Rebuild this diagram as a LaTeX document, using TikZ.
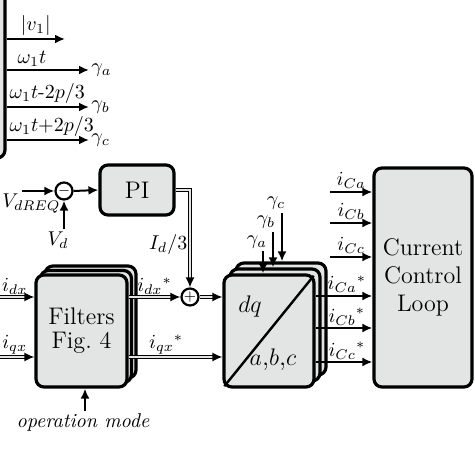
\documentclass[tikz,border=0pt]{standalone}
\usepackage{amsmath}
\usetikzlibrary{arrows.meta,calc,positioning}
\definecolor{blockgray}{HTML}{E3E5E5}
\tikzset{
  blockbox/.style={draw=black, fill=blockgray, line width=1.6pt, rounded corners=4pt, align=center, inner sep=2pt, font=\fontsize{12}{14}\selectfont},
  sumnode/.style={circle, draw=black, fill=white, line width=1.1pt, minimum size=8.5pt, inner sep=0pt, font=\scriptsize},
  sigarrow/.style={black, -{Latex[length=5pt,width=4.5pt]}, line width=1pt},
  busline/.style={black, double=blockgray, double distance=0.9pt, line width=0.7pt},
  busarrow/.style={busline, -{Latex[length=5pt,width=4.5pt]}},
  labelnode/.style={inner sep=1pt, font=\normalsize}
}

\begin{document}
\begin{tikzpicture}[x=0.5pt,y=-0.5pt]
  \useasboundingbox (0,0) rectangle (474,474);
  \clip (0,0) rectangle (474,474);

  % reference block, cut at the left edge
  \node[blockbox, minimum width=20pt, minimum height=84pt] (gen) at (-15,74) {};
  \coordinate (vmag) at (65,39);
  \node[labelnode, anchor=west] (ga) at (89,70) {$\gamma_a$};
  \node[labelnode, anchor=west] (gb) at (89,107) {$\gamma_b$};
  \node[labelnode, anchor=west] (gc) at (89,140) {$\gamma_c$};
  \draw[sigarrow] (gen.east |- vmag) -- (vmag) node[midway, above, labelnode] {$|v_1|$};
  \draw[sigarrow] (gen.east |- ga) node[above right, labelnode, xshift=4pt] {$\omega_1 t$} -- (ga.west);
  \draw[sigarrow] (gen.east |- gb) node[above right, labelnode] {$\omega_1 t$-$2p/3$} -- (gb.west);
  \draw[sigarrow] (gen.east |- gc) node[above right, labelnode] {$\omega_1 t$+$2p/3$} -- (gc.west);

  % voltage loop
  \node[sumnode] (sub) at (64,191) {$-$};
  \node[labelnode, anchor=west] (vref) at (0,204) {$V_{dREQ}$};
  \coordinate (vrefin) at (22,191);
  \draw[sigarrow] (vrefin) -- (sub.west);
  \node[labelnode] (vd) at (58,240) {$V_d$};
  \draw[sigarrow] (sub.south |- vd.north) -- (sub.south);
  \node[blockbox, minimum width=37pt, minimum height=25pt] (pi) at (137,190) {PI};
  \draw[sigarrow] (sub.east) -- (pi.west);

  % filters
  \foreach \k in {2,1}
    \node[blockbox, minimum width=45.5pt, minimum height=56pt] (filt\k) at (81.5+4.5*\k,331-4.5*\k) {};
  \node[blockbox, minimum width=45.5pt, minimum height=56pt] (filt) at (81.5,331) {Filters\\[-2pt]Fig.~4};
  \node[labelnode] (mode) at (83,422) {\itshape operation mode};
  \draw[sigarrow] (mode.north -| 85,0) -- (filt.south -| 85,0);

  % dq to abc
  \foreach \k in {2,1}
    \node[blockbox, minimum width=45pt, minimum height=56pt] (dq\k) at (269+6*\k,331-6*\k) {};
  \node[blockbox, minimum width=45pt, minimum height=56pt] (dq) at (269,331) {};
  \draw[line width=1.2pt, shorten <=1.5pt, shorten >=1.5pt] (dq.south west) -- (dq.north east);
  \node[labelnode, font=\fontsize{13}{15}\selectfont] (dqtxt) at (250,307) {$dq$};
  \node[labelnode, font=\fontsize{13}{15}\selectfont] (abctxt) at (273,360) {$a$,$b$,$c$};

  \node[labelnode] (gama) at (257,242) {$\gamma_a$};
  \node[labelnode] (gamb) at (266,222) {$\gamma_b$};
  \node[labelnode] (gamc) at (276,203) {$\gamma_c$};
  \coordinate (gain) at (263,251);
  \coordinate (gbin) at (273,232);
  \coordinate (gcin) at (282,213);
  \draw[sigarrow] (gain) -- (gain |- dq.north);
  \draw[sigarrow] (gbin) -- (gbin |- dq1.north);
  \draw[sigarrow] (gcin) -- (gcin |- dq2.north);

  % current references
  \node[sumnode] (add) at (190,297) {$+$};
  \coordinate (dxin) at (-5,297);
  \coordinate (qxin) at (-5,357);
  \draw[busarrow] (dxin) -- (filt.west |- dxin) node[midway, above, labelnode] {$i_{dx}$};
  \draw[busarrow] (qxin) -- (filt.west |- qxin) node[midway, above, labelnode] {$i_{qx}$};
  \draw[busarrow] (filt.east |- add) -- (add.west) node[midway, above, labelnode] {$i_{dx}{}^{*}$};
  \draw[busarrow] (add.east) -- (dq.west |- add);
  \draw[busarrow] (filt.east |- qxin) -- (dq.west |- qxin) node[pos=0.4, above, labelnode] {$i_{qx}{}^{*}$};
  \draw[busarrow] (pi.east) -| (add.north) node[pos=0.78, left, labelnode] {$I_d/3$};

  % current control
  \node[blockbox, minimum width=49pt, minimum height=109.5pt] (ccl) at (423,277.5) {Current\\Control\\Loop};
  \foreach \yy/\ph in {192/a,223/b,257/c}{
    \coordinate (ic\ph) at (330,\yy);
    \draw[sigarrow] (ic\ph) -- (ccl.west |- ic\ph) node[midway, above, labelnode] {$i_{C\ph}$};
  }
  \foreach \yy/\ph in {296/a,328/b,362/c}{
    \coordinate (ir\ph) at (330,\yy);
    \draw[sigarrow] (dq.east |- ir\ph) -- (ccl.west |- ir\ph) node[pos=0.55, above, labelnode] {$i_{C\ph}{}^{*}$};
  }
\end{tikzpicture}
\end{document}
